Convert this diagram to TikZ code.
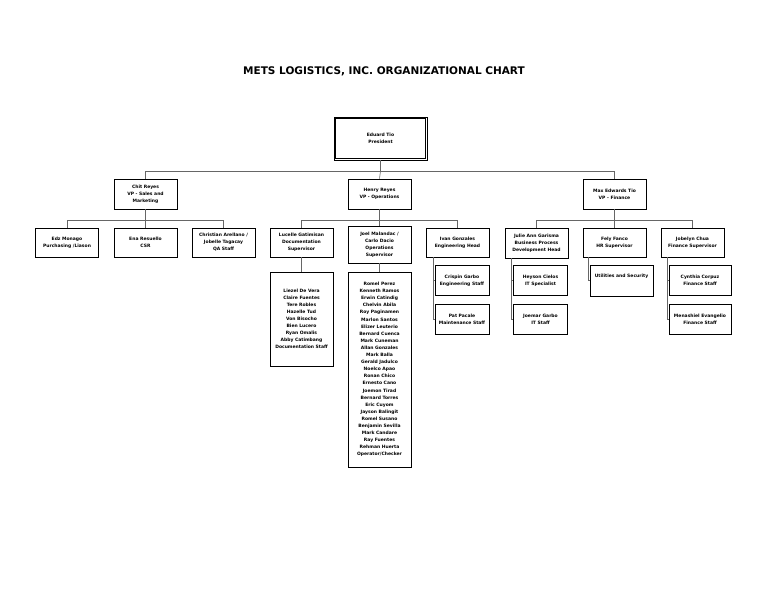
\documentclass[tikz,border=0pt]{standalone}
\usepackage{fontspec}
\setmainfont{DejaVu Sans}
\begin{document}
\begin{tikzpicture}[x=1pt,y=-1pt,
  box/.style={draw,line width=0.6pt,align=center,font=\bfseries\fontsize{4.5}{7}\selectfont,inner sep=1pt},
  ln/.style={line width=0.6pt,gray!80!black}]
\useasboundingbox (0,0) rectangle (768,594);
\node[font=\bfseries\fontsize{10.5}{12}\selectfont] (title) at (384,71) {METS LOGISTICS, INC. ORGANIZATIONAL CHART};
% level 1
\node[box,minimum width=93pt,minimum height=43pt] (pres) at (380.5,138.5) {Eduard Tio\\President};
\draw[line width=0.6pt] ([shift={(2pt,2pt)}]pres.south west) rectangle ([shift={(-2pt,-2pt)}]pres.north east);
% level 2
\tikzset{l2/.style={box,minimum width=63pt,minimum height=30pt}}
\node[l2] (chit) at (145.5,194) {Chit Reyes\\VP - Sales and\\Marketing};
\node[l2] (henry) at (379.5,194) {Henry Reyes\\VP - Operations};
\node[l2] (max) at (614.5,194) {Max Edwards Tio\\VP - Finance};
\draw[ln] (pres.south) -- (380.5,171) (chit.north) |- (max.north |- 0,171) -- (max.north);
\draw[ln] (380.5,171) -- (henry.north);
% level 3
\tikzset{l3/.style={box,minimum width=63pt,minimum height=29pt}}
\node[l3] (edz) at (67,242.5) {Edz Monago\\Purchasing /Liason};
\node[l3] (ena) at (145.5,242.5) {Ena Resuello\\CSR};
\node[l3] (chr) at (223.5,242.5) {Christian Arellano /\\Jobelle Tagacay\\QA Staff};
\draw[ln] (chit.south) -- (145.5,220) (edz.north) |- (chr.north |- 0,220) -- (chr.north) (145.5,220) -- (ena.north);
\node[l3] (luc) at (301.5,242.5) {Lucelle Gatimisan\\Documentation\\Supervisor};
\node[l3,minimum height=37pt] (joel) at (379.5,244.5) {Joel Malandac /\\Carlo Dacio\\Operations\\Supervisor};
\node[l3] (ivan) at (457.5,242.5) {Ivan Gonzales\\Engineering Head};
\draw[ln] (henry.south) -- (379.5,220) (luc.north) |- (ivan.north |- 0,220) -- (ivan.north) (379.5,220) -- (joel.north);
\node[l3,minimum height=30pt] (julie) at (536.5,243) {Julie Ann Garisma\\Business Process\\Development Head};
\node[l3] (fely) at (614.5,242.5) {Fely Fanco\\HR Supervisor};
\node[l3] (jobe) at (692.5,242.5) {Jobelyn Chua\\Finance Supervisor};
\draw[ln] (max.south) -- (614.5,220) (julie.north) |- (jobe.north |- 0,220) -- (jobe.north) (614.5,220) -- (fely.north);
% lists
\node[box,minimum width=63pt,minimum height=94pt] (lucl) at (301.5,319) {Liezel De Vera\\Claire Fuentes\\Tere Robles\\Hazelle Tud\\Von Bisocho\\Bien Lucero\\Ryan Omalis\\Abby Catimbang\\Documentation Staff};
\draw[ln] (luc.south) -- (lucl.north);
\node[box,minimum width=63pt,minimum height=195pt,font=\bfseries\fontsize{4.5}{7.1}\selectfont] (joell) at (379.5,369.5) {Romel Perez\\Kenneth Ramos\\Erwin Catindig\\Chelvin Abila\\Roy Paginamen\\Marlon Santos\\Elizer Leuterio\\Bernard Cuenca\\Mark Cuneman\\Allan Gonzales\\Mark Balla\\Gerald Jadulco\\Noelco Apao\\Ronan Chico\\Ernesto Cano\\Joemon Tirad\\Bernard Torres\\Eric Cuyom\\Jayson Balingit\\Romel Susano\\Benjamin Sevilla\\Mark Candare\\Ray Fuentes\\Rehman Huerta\\Operator/Checker};
\draw[ln] (joel.south) -- (joell.north);
% side children
\tikzset{sb/.style={box,minimum width=54pt,minimum height=30pt}}
\node[sb] (cri) at (462,280.5) {Crispin Garbo\\Engineering Staff};
\node[sb] (pat) at (462,319.5) {Pat Pacale\\Maintenance Staff};
\draw[ln] (433,257) |- (pat.west) (433,280.5) -- (cri.west);
\node[sb] (hey) at (540.5,280.5) {Heyson Cielos\\IT Specialist};
\node[sb] (joe) at (540.5,319.5) {Joemar Garbo\\IT Staff};
\draw[ln] (511,258) |- (joe.west) (511,280.5) -- (hey.west);
\node[box,minimum width=63pt,minimum height=31pt] (uti) at (621.5,280.5) {Utilities and Security\\[2pt]};
\draw[ln] (588,257) |- (uti.west);
\node[sb,minimum width=62pt] (cyn) at (700,280.5) {Cynthia Corpuz\\Finance Staff};
\node[sb,minimum width=62pt] (men) at (700,319.5) {Menashiel Evangelio\\Finance Staff};
\draw[ln] (667,257) |- (men.west) (667,280.5) -- (cyn.west);
\end{tikzpicture}
\end{document}
